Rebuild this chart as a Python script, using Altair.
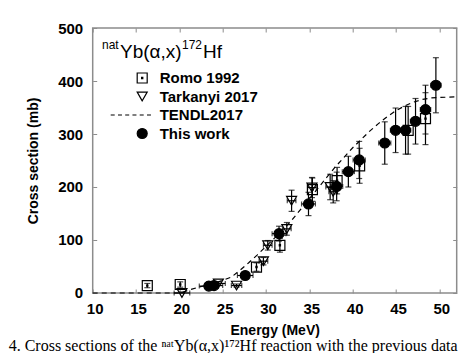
import altair as alt
import pandas as pd

# ---------------- data ----------------
# This work (filled circles): energy, cross section, d(sigma), d(energy)
tw_e = [23.4, 24.0, 27.6, 31.5, 34.9, 38.15, 39.5, 40.75, 43.7, 44.95, 46.1, 47.25, 48.4, 49.6]
tw_s = [13, 14, 33, 112, 168, 201, 229, 251, 283, 307, 307, 324, 346, 392]
tw_ds = [3, 3, 5, 14, 22, 27, 29, 35, 40, 42, 45, 43, 46, 52]
tw_de = [1.1, 1.0, 0.9, 0.8, 0.8, 0.7, 0.7, 0.7, 0.7, 0.6, 0.6, 0.6, 0.6, 0.6]

# Romo 1992 (open squares)
romo_e = [16.3, 20.1, 28.9, 31.6, 35.35, 38.2, 40.8, 46.4, 48.4]
romo_s = [14, 16, 49, 90, 195, 212, 240, 307, 329]
romo_ds = [4, 5, 8, 13, 22, 25, 33, 45, 49]

# Tarkanyi 2017 (open down-triangles)
tark_e = [20.3, 24.5, 26.6, 29.7, 30.2, 32.4, 32.95, 35.3, 37.4, 37.75]
tark_s = [0, 18, 14, 60, 90, 121, 174, 199, 200, 191]
tark_ds = [2, 3, 3, 7, 9, 12, 20, 19, 24, 21]
tark_de = [0.9, 0.8, 0.6, 0.5, 0.5, 0.5, 0.5, 0.5, 0.5, 0.5]

# TENDL2017 (dashed curve)
tendl_e = [10, 20.2, 21, 22, 23, 24, 25, 26, 27, 28, 29, 30, 31, 32, 33, 34, 35,
           36, 37, 38, 39, 40, 41, 42, 43, 44, 45, 46, 47, 48, 49, 50, 52]
tendl_s = [0, 0, 5, 10, 14, 18, 24, 30, 43, 57, 72, 88, 104, 120, 138, 158, 178,
           198, 218, 238, 256, 274, 290, 306, 320, 333, 344, 353, 360, 365, 368, 369, 370]

SERIES = ["Romo 1992", "Tarkanyi 2017", "TENDL2017", "This work"]
x_ticks = [10, 15, 20, 25, 30, 35, 40, 45, 50]
y_ticks = [0, 100, 200, 300, 400, 500]

# ---------------- tables ----------------
rows = []
for e, s, ds in zip(romo_e, romo_s, romo_ds):
    rows.append(dict(series="Romo 1992", E=e, s=s, lo=s - ds, hi=s + ds, de=0.0))
for e, s, ds, de in zip(tark_e, tark_s, tark_ds, tark_de):
    rows.append(dict(series="Tarkanyi 2017", E=e, s=s, lo=max(s - ds, 0), hi=s + ds, de=de))
for e, s, ds, de in zip(tw_e, tw_s, tw_ds, tw_de):
    rows.append(dict(series="This work", E=e, s=s, lo=s - ds, hi=s + ds, de=de))
pts = pd.DataFrame(rows)
pts["elo"] = pts["E"] - pts["de"]
pts["ehi"] = pts["E"] + pts["de"]
hpts = pts[pts["de"] > 0]

vcaps = pd.concat([pts[["E"]].assign(c=pts["lo"]), pts[["E"]].assign(c=pts["hi"])])
hcaps = pd.concat([hpts[["s"]].assign(c=hpts["elo"]), hpts[["s"]].assign(c=hpts["ehi"])])

tendl = pd.DataFrame({"E": tendl_e, "s": tendl_s})

xs = alt.Scale(domain=[10, 52], nice=False, zero=False)
ys = alt.Scale(domain=[0, 500], nice=False, zero=False)

FONT = "Liberation Sans"
GRAY = "#8c8c8c"

# legend symbol shapes
square_dot = "M-1,-1L1,-1L1,1L-1,1Z M-0.12,-0.12L0.12,-0.12L0.12,0.12L-0.12,0.12Z"
dash_parts = []
x0 = -6.3
while x0 < 2.3:
    dash_parts.append("M%.2f,0L%.2f,0" % (x0, min(x0 + 0.8, 2.4)))
    x0 += 1.45
dash_path = " ".join(dash_parts)

bottom_axis = alt.Axis(values=x_ticks, orient="bottom", offset=-4, tickSize=4, domain=False,
                       tickColor=GRAY, labelFont=FONT, labelFontSize=15, labelFontWeight="bold",
                       labelColor="black", labelPadding=9, labelOffset=2, labelFlush=False,
                       title="Energy (MeV)", titleFont=FONT, titleFontSize=14,
                       titleFontWeight="bold", titleColor="black", titlePadding=7)
left_axis = alt.Axis(values=y_ticks, orient="left", offset=-4, tickSize=4, domain=False,
                     tickColor=GRAY, labelFont=FONT, labelFontSize=15, labelFontWeight="bold",
                     labelColor="black", labelPadding=10, labelFlush=False,
                     title="Cross section (mb)", titleFont=FONT, titleFontSize=14,
                     titleFontWeight="bold", titleColor="black", titlePadding=17)
top_axis = alt.Axis(values=x_ticks, orient="top", offset=-4, tickSize=4, domain=False,
                    tickColor=GRAY, labels=False, title="")
right_axis = alt.Axis(values=y_ticks, orient="right", offset=-4, tickSize=4, domain=False,
                      tickColor=GRAY, labels=False, title="")

line = alt.Chart(tendl).mark_line(color="black", strokeDash=[5, 4], strokeWidth=1.2).encode(
    x=alt.X("E:Q", scale=xs, axis=bottom_axis),
    y=alt.Y("s:Q", scale=ys, axis=left_axis),
)

vbars = alt.Chart(pts).mark_rule(color="black", strokeWidth=1.2).encode(
    x=alt.X("E:Q", scale=xs, axis=None),
    y=alt.Y("lo:Q", scale=ys, axis=None),
    y2="hi:Q",
)
vcap = alt.Chart(vcaps).mark_tick(orient="horizontal", color="black", size=6, thickness=1.2).encode(
    x=alt.X("E:Q", scale=xs, axis=None),
    y=alt.Y("c:Q", scale=ys, axis=None),
)
hbars = alt.Chart(hpts).mark_rule(color="black", strokeWidth=1.2).encode(
    x=alt.X("elo:Q", scale=xs, axis=None),
    x2="ehi:Q",
    y=alt.Y("s:Q", scale=ys, axis=None),
)
hcap = alt.Chart(hcaps).mark_tick(orient="vertical", color="black", size=5, thickness=1.2).encode(
    x=alt.X("c:Q", scale=xs, axis=None),
    y=alt.Y("s:Q", scale=ys, axis=None),
)

leg = alt.Legend(title="", orient="none", legendX=42, legendY=42.5)
points = alt.Chart(pts).mark_point(size=100, strokeWidth=1.2, opacity=1).encode(
    x=alt.X("E:Q", scale=xs, axis=top_axis),
    y=alt.Y("s:Q", scale=ys, axis=right_axis),
    shape=alt.Shape("series:N", scale=alt.Scale(domain=SERIES,
                    range=[square_dot, "triangle-down", dash_path, "circle"]), legend=leg),
    fill=alt.Fill("series:N", scale=alt.Scale(domain=SERIES,
                  range=["transparent", "transparent", "transparent", "black"]), legend=leg),
    stroke=alt.Stroke("series:N", scale=alt.Scale(domain=SERIES,
                      range=["black", "black", "black", "black"]), legend=leg),
)

# reaction label inside the plot
big = pd.DataFrame({"E": [13.15, 22.73], "s": [444, 444], "t": ["Yb(α,x)", "Hf"]})
small = pd.DataFrame({"E": [11.07, 20.30], "s": [461, 461], "t": ["nat", "172"]})
big_t = alt.Chart(big).mark_text(align="left", baseline="alphabetic", font=FONT, fontSize=19,
                                 color="black").encode(
    x=alt.X("E:Q", scale=xs, axis=None), y=alt.Y("s:Q", scale=ys, axis=None), text="t:N")
small_t = alt.Chart(small).mark_text(align="left", baseline="alphabetic", font=FONT, fontSize=12,
                                     color="black").encode(
    x=alt.X("E:Q", scale=xs, axis=None), y=alt.Y("s:Q", scale=ys, axis=None), text="t:N")

caption = pd.DataFrame({"t": ["4. Cross sections of the \u207f\u1d43\u1d57Yb(α,x)\u00b9\u2077\u00b2Hf reaction with the previous data"]})
cap_t = alt.Chart(caption).mark_text(align="left", baseline="alphabetic", font="Liberation Serif",
                                     fontSize=16, color="black").encode(
    x=alt.value(-84), y=alt.value(323), text="t:N")

chart = alt.layer(line, vbars, vcap, hbars, hcap, points, big_t, small_t, cap_t).resolve_axis(
    x="independent", y="independent"
).properties(
    width=364, height=265,
    autosize=alt.AutoSizeParams(type="none"),
    padding={"left": 84.7, "top": 20, "right": 9, "bottom": 60},
).configure_view(
    stroke=GRAY, strokeWidth=1.5
).configure_axis(
    grid=False
).configure_legend(
    labelFont=FONT, labelFontSize=15, labelFontWeight="bold", labelColor="black",
    symbolSize=100, symbolStrokeWidth=1.2, symbolStrokeColor="black",
    rowPadding=2.5, labelOffset=10, padding=0
)

chart.save("out.html", embed_options={"renderer": "svg", "actions": False})
